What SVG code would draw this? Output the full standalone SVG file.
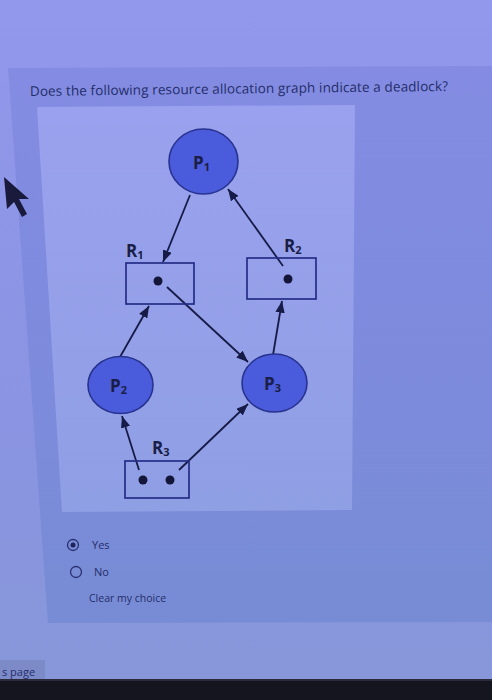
<svg xmlns="http://www.w3.org/2000/svg" width="492" height="700" viewBox="0 0 492 700">
<defs>
<linearGradient id="bg" x1="0" y1="0" x2="0" y2="1">
<stop offset="0" stop-color="#9298ec"/>
<stop offset="0.6" stop-color="#8a94e2"/>
<stop offset="1" stop-color="#8797d8"/>
</linearGradient>
<linearGradient id="card" x1="0" y1="0" x2="0" y2="1">
<stop offset="0" stop-color="#838ce2"/>
<stop offset="0.6" stop-color="#7d8bdc"/>
<stop offset="1" stop-color="#778cd4"/>
</linearGradient>
<linearGradient id="img" x1="0" y1="0" x2="0" y2="1">
<stop offset="0" stop-color="#9aa1ee"/>
<stop offset="1" stop-color="#8f9fe4"/>
</linearGradient>
<marker id="ah" viewBox="0 0 10 8" refX="10" refY="4" markerWidth="6.5" markerHeight="5.2" orient="auto">
<path d="M0,0 L10,4 L0,8 z" fill="#171b48"/>
</marker>
<style>
.proc{fill:#4a5bdb;stroke:#28338f;stroke-width:1.6}
.res{fill:none;stroke:#252d86;stroke-width:1.7}
.dot{fill:#131639}
.lbl{font-family:"Open Sans","Liberation Sans",sans-serif;font-weight:bold;font-size:17px;fill:#1a1e46}
.sub{font-size:11px}
.edge{stroke:#171b48;stroke-width:1.8;fill:none;marker-end:url(#ah)}
.ui{font-family:"Open Sans","Liberation Sans",sans-serif;fill:#252c6a}
</style>
</defs>
<rect x="0" y="0" width="492" height="700" fill="url(#bg)"/>
<polygon points="8,68 492,66 492,622 48,623" fill="url(#card)"/>
<polygon points="37,107 355,105 352,510 62,512" fill="url(#img)"/>
<text class="ui" x="30" y="96" font-size="13.5" textLength="418" transform="rotate(-0.7 30 96)">Does the following resource allocation graph indicate a deadlock?</text>
<path d="M4,177 L29,199 L19,199 L27,214 L22,217 L14,202 L7,209 Z" fill="#1a1b3c"/>
<g id="connectors">
<line class="edge" x1="190" y1="195" x2="163" y2="262"/>
<line class="edge" x1="283" y1="266" x2="228" y2="189"/>
<line class="edge" x1="167" y1="287" x2="248" y2="362"/>
<line class="edge" x1="273" y1="355" x2="282" y2="301"/>
<line class="edge" x1="120" y1="357" x2="149" y2="306"/>
<line class="edge" x1="139" y1="470" x2="122" y2="416"/>
<line class="edge" x1="179" y1="470" x2="248" y2="404"/>
</g>
<g id="P1"><ellipse class="proc" cx="203.5" cy="161.5" rx="34.5" ry="32.5"/><text class="lbl" x="193" y="169">P<tspan class="sub" dy="2">1</tspan></text></g>
<g id="P2"><ellipse class="proc" cx="120.5" cy="385" rx="32.5" ry="28.5"/><text class="lbl" x="110" y="392">P<tspan class="sub" dy="2">2</tspan></text></g>
<g id="P3"><ellipse class="proc" cx="274.5" cy="383" rx="32.5" ry="29"/><text class="lbl" x="264" y="390">P<tspan class="sub" dy="2">3</tspan></text></g>
<g id="R1"><rect class="res" x="126" y="263" width="68" height="41"/><circle class="dot" cx="158" cy="281" r="4.5"/><text class="lbl" x="126" y="257">R<tspan class="sub" dy="2">1</tspan></text></g>
<g id="R2"><rect class="res" x="247" y="258" width="69" height="41"/><circle class="dot" cx="288" cy="279" r="4.5"/><text class="lbl" x="284" y="252">R<tspan class="sub" dy="2">2</tspan></text></g>
<g id="R3"><rect class="res" x="125" y="461" width="64" height="37"/><circle class="dot" cx="143" cy="480" r="4.5"/><circle class="dot" cx="170" cy="480" r="4.5"/><text class="lbl" x="152" y="454">R<tspan class="sub" dy="2">3</tspan></text></g>
<circle cx="73" cy="545" r="5.5" fill="none" stroke="#2a3070" stroke-width="1.3"/>
<circle cx="73" cy="545" r="2.5" fill="#1f2358"/>
<text class="ui" x="92" y="549" font-size="11">Yes</text>
<circle cx="76" cy="572" r="5.5" fill="none" stroke="#2a3070" stroke-width="1.3"/>
<text class="ui" x="94" y="576" font-size="11">No</text>
<text class="ui" x="89" y="602" font-size="10.5" fill="#3a48a0">Clear my choice</text>
<rect x="0" y="660" width="45" height="20" fill="#7c8bc8"/>
<text class="ui" x="2" y="676" font-size="11">s page</text>
<rect x="0" y="680" width="492" height="20" fill="#15151f"/>
<rect x="0" y="679" width="492" height="2" fill="#2a2a3a"/>
</svg>
